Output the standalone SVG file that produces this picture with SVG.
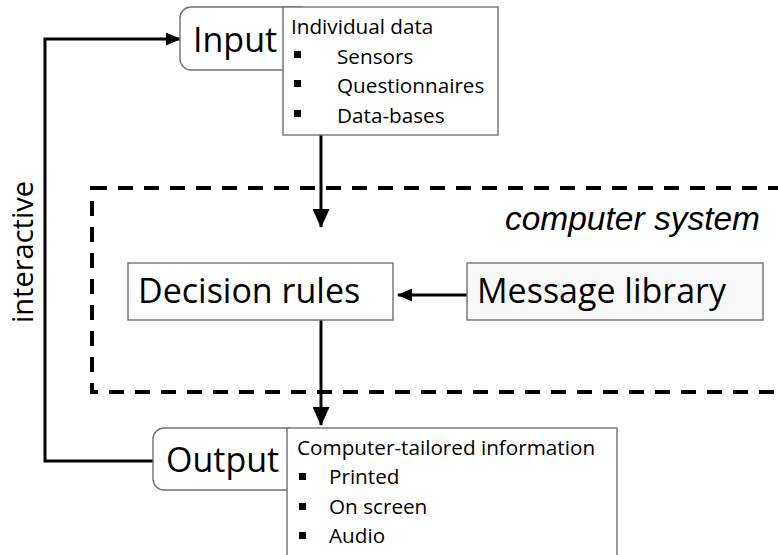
<svg xmlns="http://www.w3.org/2000/svg" width="778" height="555" viewBox="0 0 778 555">
  <style>
    .box { fill: #ffffff; stroke: #707070; stroke-width: 1.4; }
    .lbl { font-family: "Open Sans", "Liberation Sans", sans-serif; fill: #000000; }
    .big { font-size: 34px; }
    .small { font-size: 20.7px; }
    .wire { fill: none; stroke: #000000; stroke-width: 3; }
    .bullet { fill: #000000; }
  </style>
  <defs>
    <marker id="arrow" viewBox="0 0 19 17" refX="18" refY="8.5" markerWidth="19" markerHeight="17" markerUnits="userSpaceOnUse" orient="auto">
      <path d="M0,0 L19,8.5 L0,17 Z" fill="#000000"/>
    </marker>
    <marker id="arrowSmall" viewBox="0 0 15 13" refX="14" refY="6.5" markerWidth="15" markerHeight="13" markerUnits="userSpaceOnUse" orient="auto">
      <path d="M0,0 L15,6.5 L0,13 Z" fill="#000000"/>
    </marker>
  </defs>

  <!-- computer system boundary -->
  <g id="computer-system">
    <rect x="92" y="188" width="720" height="204" fill="none" stroke="#000000" stroke-width="4" stroke-dasharray="15 11"/>
    <text x="760" y="230" text-anchor="end" font-style="italic" font-size="33.5" fill="#000000" style="font-family: 'Liberation Sans', Arial, sans-serif">computer system</text>
  </g>

  <!-- connectors -->
  <g id="connectors">
    <polyline class="wire" points="153,461 45,461 45,39 180,39" marker-end="url(#arrowSmall)"/>
    <line class="wire" x1="321" y1="135" x2="321" y2="227" marker-end="url(#arrow)"/>
    <line class="wire" x1="321" y1="320" x2="321" y2="425" marker-end="url(#arrow)"/>
    <line class="wire" x1="467" y1="295" x2="398" y2="295" marker-end="url(#arrowSmall)"/>
  </g>

  <!-- loop label -->
  <text class="lbl" x="0" y="0" font-size="29" text-anchor="middle" transform="translate(33,252) rotate(-90)">interactive</text>

  <!-- input node -->
  <g id="input">
    <rect class="box" x="180" y="7" width="130" height="63" rx="11" ry="11"/>
    <text class="lbl big" x="193" y="52">Input</text>
  </g>
  <g id="input-details">
    <rect class="box" x="283" y="7" width="215" height="128"/>
    <text class="lbl small" x="291" y="34">Individual data</text>
    <rect class="bullet" x="294" y="51" width="7" height="7"/>
    <text class="lbl small" x="337" y="64">Sensors</text>
    <rect class="bullet" x="294" y="80" width="7" height="7"/>
    <text class="lbl small" x="337" y="93">Questionnaires</text>
    <rect class="bullet" x="294" y="110" width="7" height="7"/>
    <text class="lbl small" x="337" y="123">Data-bases</text>
  </g>

  <!-- decision rules node -->
  <g id="decision-rules">
    <rect class="box" x="128" y="263" width="265" height="57"/>
    <text class="lbl big" x="138" y="303">Decision rules</text>
  </g>

  <!-- message library node -->
  <g id="message-library">
    <rect class="box" x="467" y="263" width="296" height="57" style="fill:#f9f9f9"/>
    <text class="lbl big" x="477" y="303">Message library</text>
  </g>

  <!-- output node -->
  <g id="output">
    <rect class="box" x="153" y="428" width="145" height="62" rx="11" ry="11"/>
    <text class="lbl big" x="166" y="472">Output</text>
  </g>
  <g id="output-details">
    <rect class="box" x="287" y="428" width="330" height="140"/>
    <text class="lbl small" x="297" y="455">Computer-tailored information</text>
    <rect class="bullet" x="299" y="473" width="7" height="7"/>
    <text class="lbl small" x="329" y="484">Printed</text>
    <rect class="bullet" x="299" y="503" width="7" height="7"/>
    <text class="lbl small" x="329" y="514">On screen</text>
    <rect class="bullet" x="299" y="532" width="7" height="7"/>
    <text class="lbl small" x="329" y="543">Audio</text>
  </g>
</svg>
